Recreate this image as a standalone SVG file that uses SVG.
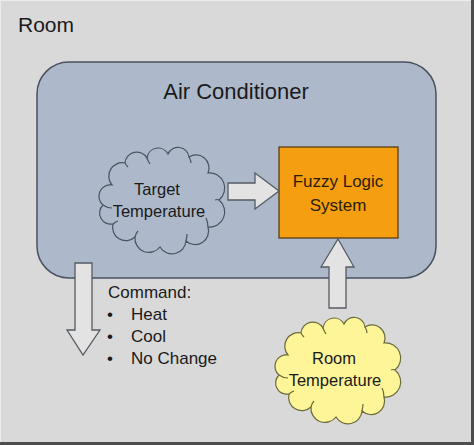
<svg xmlns="http://www.w3.org/2000/svg" width="474" height="445" viewBox="0 0 474 445">
<defs>
<style>
text{font-family:"Liberation Sans","Noto Sans",Arial,sans-serif;fill:#1a1a1a}
.arrow{fill:#e3e3e3;stroke:#555b63;stroke-width:1.3;stroke-linejoin:miter}
.cloud-ac{fill:#adb9ca;stroke:#4a5260;stroke-width:1.2}
.cloud-room{fill:#fdf597;stroke:#6b6a3a;stroke-width:1.2}
.hook{fill:none;stroke-width:1.2}
</style>
<path id="cloudShape" d="M16,40 A13.5,13.5 0 0 1 29,18 A11.8,11.8 0 0 1 51,13 A11.2,11.2 0 0 1 72,9 A11,11 0 0 1 93,12 A13,13 0 0 1 112,28 A15.2,15.2 0 0 1 123,55 A15.2,15.2 0 0 1 112,82 A13.5,13.5 0 0 1 90,96 A14,14 0 0 1 64,102 A14,14 0 0 1 39,92 A13.3,13.3 0 0 1 17,79 A11.2,11.2 0 0 1 7,60 A11.4,11.4 0 0 1 16,40 Z"/>
<path id="cloudHooks" d="M7,60 Q11,63 16,63 M17,79 Q19,77 22,76 M39,92 Q40,88 42,86 M90,96 Q91,92 91,89 M112,82 Q112,77 110,73 M123,55 Q121,54 119,55 M93,12 Q95,15 95,18 M51,13 Q52,16 54,19 M29,18 Q30,20 32,22"/>
</defs>
<rect x="0" y="0" width="474" height="445" fill="#d9d9d9"/>
<rect x="0.5" y="0.5" width="472" height="443" fill="none" stroke="#ececec" stroke-width="1"/>
<line x1="472.5" y1="0" x2="472.5" y2="445" stroke="#4d4d4d" stroke-width="3"/>
<line x1="0" y1="443.5" x2="474" y2="443.5" stroke="#4d4d4d" stroke-width="3"/>

<g id="room">
<text x="18" y="32" font-size="21">Room</text>
</g>

<g id="air-conditioner">
<rect x="37" y="62" width="399" height="216" rx="32" ry="32" fill="#adb9ca" stroke="#4a5260" stroke-width="1.5"/>
<text x="236" y="99" font-size="22" text-anchor="middle">Air Conditioner</text>
</g>

<g id="target-temperature">
<g transform="translate(96,145)">
<use href="#cloudShape" class="cloud-ac"/>
<use href="#cloudHooks" class="hook" stroke="#4a5260"/>
</g>
<text x="157" y="195" font-size="16.5" text-anchor="middle">Target</text>
<text x="159" y="217" font-size="16.5" text-anchor="middle">Temperature</text>
</g>

<g id="fuzzy-logic-system">
<rect x="279" y="147" width="119" height="91" fill="#f59f10" stroke="#5a3d12" stroke-width="1.3"/>
<text x="338" y="187" font-size="17" text-anchor="middle" style="fill:#2b1d05">Fuzzy Logic</text>
<text x="338" y="211" font-size="17" text-anchor="middle" style="fill:#2b1d05">System</text>
</g>

<g id="room-temperature">
<g transform="translate(272,315)">
<use href="#cloudShape" class="cloud-room"/>
<use href="#cloudHooks" class="hook" stroke="#6b6a3a"/>
</g>
<text x="334" y="364" font-size="16.5" text-anchor="middle">Room</text>
<text x="335" y="386" font-size="16.5" text-anchor="middle">Temperature</text>
</g>

<g id="command">
<text x="108" y="298" font-size="17">Command:</text>
<text x="107" y="320" font-size="17">•</text>
<text x="131" y="320" font-size="17">Heat</text>
<text x="107" y="342" font-size="17">•</text>
<text x="131" y="342" font-size="17">Cool</text>
<text x="107" y="364" font-size="17">•</text>
<text x="131" y="364" font-size="17">No Change</text>
</g>

<g id="connectors">
<path class="arrow" d="M228,183 H255 V173 L279,191 L255,209 V200 H228 Z"/>
<path class="arrow" d="M329,308 V267 H321 L338,239 L354,267 H346 V308 Z"/>
<path class="arrow" d="M75,263 H92 V330 H100 L83,355 L67,330 H75 Z"/>
</g>
</svg>
